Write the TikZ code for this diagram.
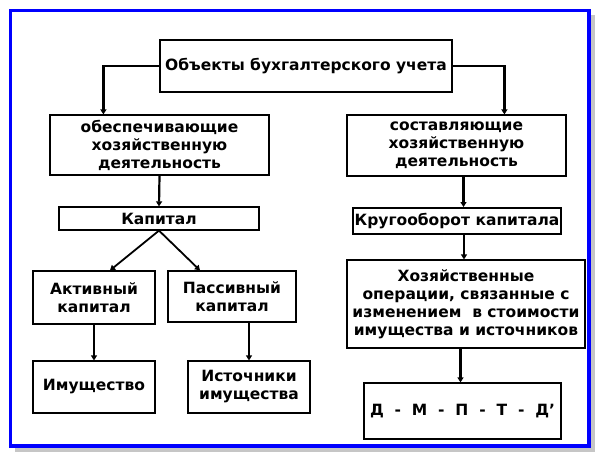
\documentclass[tikz,border=0pt]{standalone}
\usepackage{fontspec}
\setmainfont{DejaVu Sans}
\usetikzlibrary{arrows.meta}

\begin{document}
\begin{tikzpicture}[x=1pt, y=-1pt,
    box/.style={draw, line width=1.2pt, fill=white, align=center, inner sep=1pt,
      font=\bfseries\fontsize{15.5}{18}\selectfont},
    arr/.style={-{Triangle[length=5pt,width=6pt]}, line width=2.2pt}]
  \useasboundingbox (0,0) rectangle (598,455);

  % Frame with shadow
  \fill[gray!45] (15,15) rectangle (595,452);
  \draw[line width=3.5pt, blue, fill=white] (10.5,10.5) rectangle (589,446);

  % Top object
  \node[box, minimum width=292pt, minimum height=52pt] (obj) at (306,66) {Объекты бухгалтерского учета};

  % Left branch
  \node[box, minimum width=219pt, minimum height=60pt] (obesp) at (159.5,145) {обеспечивающие\\хозяйственную\\деятельность};
  \node[box, minimum width=200pt, minimum height=23pt] (kapital) at (159,218.5) {Капитал};
  \node[box, minimum width=122pt, minimum height=53pt] (aktiv) at (94,297.5) {Активный\\капитал};
  \node[box, minimum width=128pt, minimum height=51pt] (passiv) at (232,296.5) {Пассивный\\капитал};
  \node[box, minimum width=122pt, minimum height=52pt] (imush) at (94,387) {Имущество};
  \node[box, minimum width=122pt, minimum height=52pt] (istoch) at (249,387) {Источники\\имущества};

  % Right branch
  \node[box, minimum width=219pt, minimum height=61pt] (sostav) at (456.5,145.5) {составляющие\\хозяйственную\\деятельность};
  \node[box, line width=2pt, minimum width=208pt, minimum height=26pt, inner sep=0pt] (krug) at (457,221) {Кругооборот капитала};
  \node[box, minimum width=238pt, minimum height=88pt, inner sep=0pt] (hozop) at (466,304) {Хозяйственные\\операции, связанные с\\изменением \ в стоимости\\имущества и источников};
  \node[box, minimum width=197pt, minimum height=56pt, inner sep=0pt] (dmptd) at (462.5,411) {Д\hspace{0.7em}-\hspace{0.7em}М\hspace{0.7em}-\hspace{0.7em}П\hspace{0.7em}-\hspace{0.7em}Т\hspace{0.7em}-\hspace{0.7em}Д’};

  % Arrows
  \draw[arr] (obj.west) -| ([xshift=54pt]obesp.north west);
  \draw[arr] (obj.east) -| ([xshift=158pt]sostav.north west);
  \draw[arr] (obesp.south) -- (kapital.north);
  \draw[arr, line width=1.8pt] (kapital.south) -- ([xshift=16pt]aktiv.north);
  \draw[arr, line width=1.8pt] (kapital.south) -- ([xshift=-32pt]passiv.north);
  \draw[arr] (aktiv.south) -- (imush.north);
  \draw[arr] (istoch.north |- passiv.south) -- (istoch.north);
  \draw[arr] ([xshift=7pt]sostav.south) -- ([xshift=7pt]sostav.south |- krug.north);
  \draw[arr] ([xshift=7pt]krug.south) -- ([xshift=7pt]krug.south |- hozop.north);
  \draw[arr] ([xshift=-2pt]dmptd.north |- hozop.south) -- ([xshift=-2pt]dmptd.north);

\end{tikzpicture}
\end{document}
